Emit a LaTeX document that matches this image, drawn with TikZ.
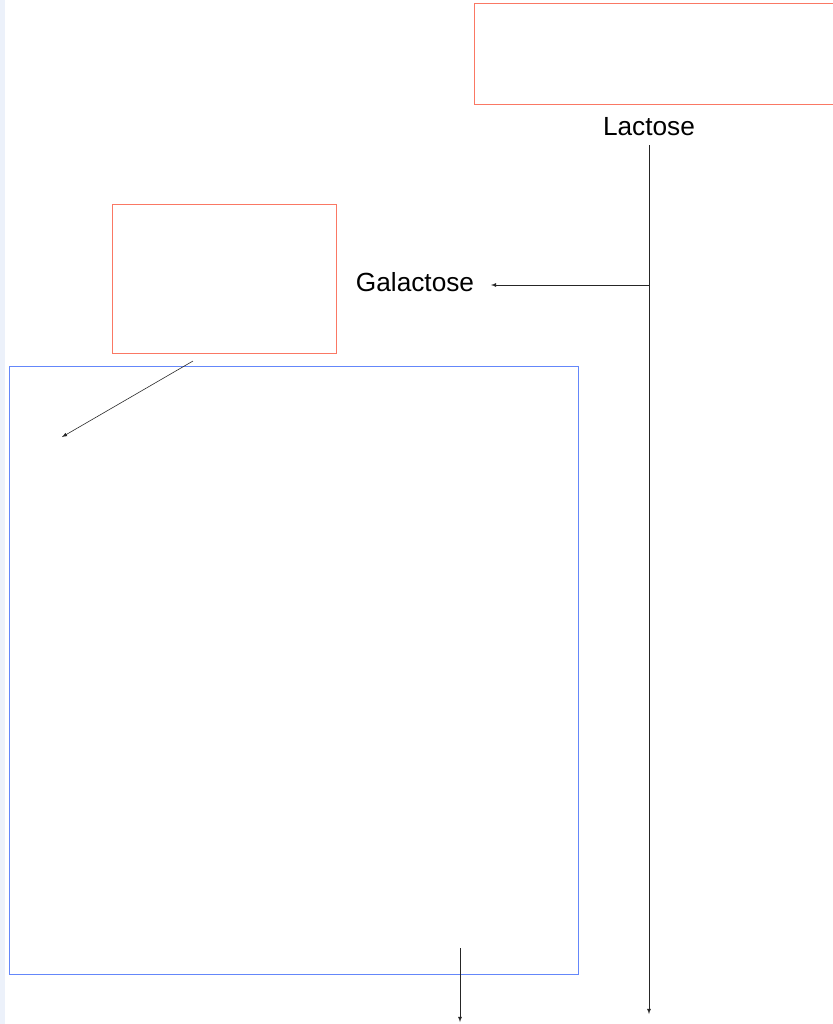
\documentclass[tikz,border=0pt]{standalone}
\usepackage{fontspec}
\setmainfont{Liberation Sans}
\usetikzlibrary{arrows}

\definecolor{boxred}{RGB}{250,120,100}
\definecolor{boxblue}{RGB}{100,135,250}
\definecolor{stripgray}{RGB}{236,241,250}

\begin{document}
\begin{tikzpicture}[x=0.03cm, y=-0.03cm,
  label/.style={font=\fontsize{22.4}{26}\selectfont, inner sep=0pt},
  redbox/.style={draw=boxred, line width=.7pt, inner sep=0pt},
  bluebox/.style={draw=boxblue, line width=.7pt, inner sep=0pt},
  flow/.style={arrows={-latex}, line width=.5pt, black!85}]
\clip (0,0) rectangle (833,1024);
\fill[white] (0,0) rectangle (833,1024);
\fill[stripgray] (0,0) rectangle (5,1024);

%boxes
\node[redbox, minimum width=10.98cm, minimum height=3.03cm] at (657,53.5) (lactosebox) {};
\node[redbox, minimum width=6.72cm, minimum height=4.47cm] at (224,278.5) (galbox) {};
\node[bluebox, minimum width=17.07cm, minimum height=18.24cm] at (293.5,670) (cell) {};

%labels
\node[label] at (649,127) (lactose) {Lactose};
\node[label] at (415,282) (galactose) {Galactose};

%lactose goes down
\coordinate (lactosestart) at (649,145);
\coordinate (branch) at (649,285);
\coordinate (lactoseend) at (649,1014);
\draw[flow] (lactosestart) -- (lactoseend);
%split off galactose
\draw[flow] (branch) -- ([xshift=0.5cm]galactose.east |- branch);
%galactose into the cell
\coordinate (galstart) at (193,361);
\coordinate (galend) at (62,437);
\draw[flow] (galstart) -- (galend);
%out of the cell
\coordinate (outstart) at (460,948);
\coordinate (outend) at (460,1022);
\draw[flow] (outstart) -- (outend);

\end{tikzpicture}
\end{document}
